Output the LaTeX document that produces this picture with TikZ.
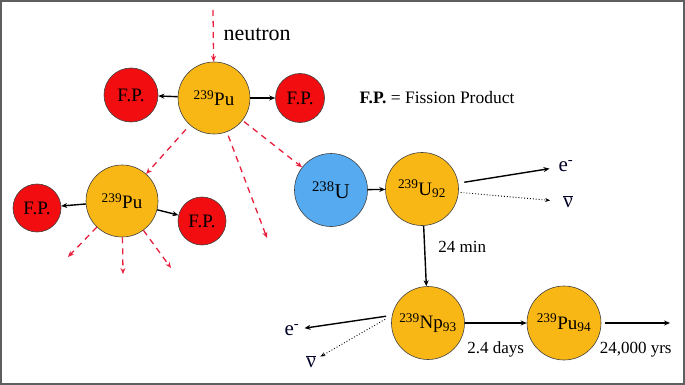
\documentclass[tikz,border=0pt]{standalone}
\usepackage{fontspec}
\setmainfont{Liberation Serif}
\usetikzlibrary{arrows.meta}
\definecolor{puorange}{RGB}{249,183,22}
\definecolor{fpred}{RGB}{242,14,16}
\definecolor{ublue}{RGB}{85,170,240}
\definecolor{nred}{RGB}{232,32,62}
\definecolor{framegray}{RGB}{95,95,95}
\tikzset{
  nucleus/.style={circle, draw=black!75, line width=0.6pt, inner sep=0pt, minimum size=72pt, font=\fontsize{19}{22}\selectfont},
  kpu/.style={nucleus, fill=puorange}, ku/.style={nucleus, fill=ublue},
  kfp/.style={circle, draw=black!75, line width=0.6pt, inner sep=0pt, minimum size=48pt, fill=fpred, font=\fontsize{19}{20}\selectfont},
  lbl/.style={font=\fontsize{17}{20}\selectfont, inner sep=1pt},
  particle/.style={font=\fontsize{21}{24}\selectfont, inner sep=1pt, text=black!85!blue},
  flow/.style={-{Stealth[length=6pt, width=5pt]}, line width=1.4pt},
  nflow/.style={-{Stealth[length=6pt, width=5pt]}, line width=1.3pt, nred, dash pattern=on 6pt off 5pt},
  dflow/.style={-{Stealth[length=5pt, width=4pt]}, line width=0.9pt, dotted},
}

\begin{document}
\begin{tikzpicture}[x=1pt, y=-1pt]
    \useasboundingbox (0,0) rectangle (685,385);
    \draw[framegray, line width=2pt] (1,1) rectangle (684,384);
    % fission branch
    \node[kpu] (puA) at (214,98) {\textsuperscript{239}Pu};
    \node[kfp, minimum size=54pt] (fpA1) at (131,95) {F.P.};
    \node[kfp, minimum size=49pt] (fpA2) at (300,98) {F.P.};
    \node[kpu] (puB) at (122,201) {\textsuperscript{239}Pu};
    \node[kfp] (fpB1) at (37,208) {F.P.};
    \node[kfp] (fpB2) at (202,221) {F.P.};
    \node[font=\fontsize{22}{24}\selectfont, anchor=west] (neutron) at (220,34) {neutron};
    \node[lbl, font=\fontsize{17.5}{20}\selectfont] (legend) at (437,98) {\textbf{F.P.} = Fission Product};
    \coordinate (nsrc) at (213,10);
    \coordinate (fA) at (267,238);
    \coordinate (fB1) at (68,257);
    \coordinate (fB2) at (123,274);
    \coordinate (fB3) at (171,268);
    % breeding chain
    \node[ku, minimum size=73pt] (u238) at (331,190) {\fontsize{21}{24}\selectfont\textsuperscript{238}U};
    \node[kpu, minimum size=73pt] (u239) at (422,189) {\textsuperscript{239}U\textsubscript{92}};
    \node[kpu, minimum size=73pt] (np) at (428,323) {\textsuperscript{239}Np\textsubscript{93}};
    \node[kpu, minimum size=74pt] (pu94) at (564,323) {\textsuperscript{239}Pu\textsubscript{94}};
    \node[particle] (eA) at (566,166) {e\textsuperscript{-}};
    \node[particle] (nuA) at (568,202) {$\overline{\mbox{ν}}$};
    \node[particle] (eB) at (292,330) {e\textsuperscript{-}};
    \node[particle] (nuB) at (311,362) {$\overline{\mbox{ν}}$};
    \coordinate (out) at (670,323);
    \draw[nflow] (nsrc) -- (puA);
    \draw[flow] (puA) -- (fpA1);
    \draw[flow] (puA) -- (fpA2);
    \draw[flow] (puB) -- (fpB1);
    \draw[flow] (puB) -- (fpB2);
    \draw[nflow, shorten <=6pt] (puA) -- (puB);
    \draw[nflow, shorten <=4pt] (puA) -- (fA);
    \draw[nflow, shorten <=2pt] (puA) -- (u238);
    \draw[nflow] (puB) -- (fB1);
    \draw[nflow] (puB) -- (fB2);
    \draw[nflow] (puB) -- (fB3);
    \draw[flow] (u238) -- (u239);
    \draw[flow, shorten <=6pt, shorten >=8pt] (u239) -- (eA);
    \draw[dflow, shorten <=2pt, shorten >=12pt] (u239) -- (nuA);
    \draw[flow] (u239) -- (np) node[pos=0.35, right=12pt, lbl]{24 min};
    \draw[flow] (np) -- (pu94) node[midway, below=17pt, lbl]{2.4 days};
    \draw[flow, shorten <=4pt] (pu94) -- (out) node[midway, below=17pt, lbl]{24,000 yrs};
    \draw[flow, shorten <=6pt, shorten >=4pt] (np.168) -- (eB);
    \draw[dflow, shorten <=8pt, shorten >=4pt] (np.168) -- (nuB);
  \end{tikzpicture}
\end{document}
